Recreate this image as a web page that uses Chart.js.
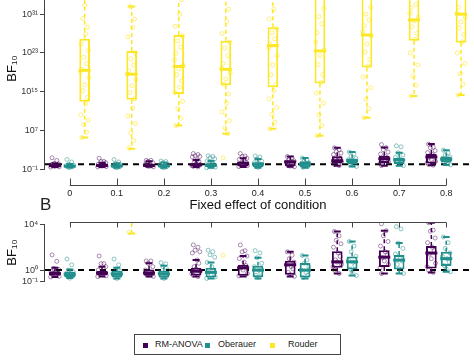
<!DOCTYPE html>
<html lang="en">
<head>
<meta charset="UTF-8">
<title>Bayes factors by fixed effect of condition</title>
<script src="https://cdn.jsdelivr.net/npm/chart.js"></script>
<style>
    body { margin: 0; width: 474px; height: 362px; overflow: hidden; background: #fff; position: relative;
           font-family: 'Liberation Sans', Arial, sans-serif; color: #222; }
    #topChart { position: absolute; left: 0; top: -38px; }
    #bottomChart { position: absolute; left: 0; top: 215px; }
    #panelB { position: absolute; left: 40px; top: 195px; font-size: 17px; }
    #legend { position: absolute; left: 134px; top: 334px; width: 205px; height: 19px; border: 1px solid #444; font-size: 9px; }
    #legend .sq { position: absolute; top: 8px; width: 5px; height: 5px; }
    #legend .lb { position: absolute; top: 4px; }
</style>
</head>
<body>
<canvas id="topChart" width="474" height="253"></canvas>
<canvas id="bottomChart" width="474" height="115"></canvas>
<div id="panelB">B</div>
<div id="legend"></div>

<script>
// fixed effect of condition (x categories)
const conditions = [0, 0.1, 0.2, 0.3, 0.4, 0.5, 0.6, 0.7, 0.8];
const conditionLabels = ['0', '0.1', '0.2', '0.3', '0.4', '0.5', '0.6', '0.7', '0.8'];
const groupNames = ['RM-ANOVA', 'Oberauer', 'Rouder'];
const groupColors = ['#440154', '#21908C', '#FDE725'];
const groupPointColors = ['rgba(68,1,84,0.45)', 'rgba(33,144,140,0.5)', 'rgba(253,231,37,0.6)'];

// box stats as log10(BF10): [lower whisker, Q1, median, Q3, upper whisker]
const rmAnovaBox = [
    [-0.6, -0.5, -0.3, -0.1, 0.2],
    [-0.57, -0.47, -0.26, -0.05, 0.3],
    [-0.55, -0.5, -0.26, 0.05, 0.6],
    [-0.57, -0.47, -0.1, 0.2, 0.88],
    [-0.56, -0.5, 0.2, 0.46, 1.23],
    [-0.55, -0.4, 0.46, 0.82, 1.6],
    [-0.3, 0.2, 0.72, 1.64, 3.38],
    [-0.3, 0.26, 1.13, 1.74, 3.44],
    [-0.2, 0.15, 1.49, 2.1, 4.15]
];
const oberauerBox = [
    [-0.7, -0.65, -0.4, -0.15, 0.05],
    [-0.73, -0.63, -0.35, -0.05, 0.2],
    [-0.73, -0.65, -0.33, -0.05, 0.37],
    [-0.73, -0.65, -0.2, 0.2, 0.67],
    [-0.73, -0.63, 0.0, 0.38, 1.07],
    [-0.73, -0.65, 0.0, 0.63, 1.28],
    [-0.47, 0.05, 0.72, 1.18, 2.5],
    [-0.3, 0.05, 0.87, 1.33, 2.36],
    [-0.15, 0.36, 1.0, 1.6, 2.9]
];
const rouderBox = [
    [5.5, 12.9, 19.4, 25.9, 38],
    [3.2, 13.3, 18.6, 23.4, 32.6],
    [8.0, 14.5, 20.2, 26.7, 40],
    [6.3, 16.3, 19.6, 25.5, 40],
    [7.3, 15.9, 24.5, 28.3, 40],
    [5.9, 16.7, 23.4, 36, 45],
    [9.6, 20.0, 26.7, 38, 48],
    [14.1, 25.5, 29.8, 40, 50],
    [14.3, 25.1, 31.0, 40, 50]
];

// individual simulations, log10(BF10)
const rmAnovaPoints = [
    [1.33, 0.77, 0.15, 0.05, -0.1, -0.2, -0.3, -0.35, -0.45, -0.55, -0.6],
    [1.23, 0.57, 0.57, 0.3, 0.0, -0.1, -0.2, -0.3, -0.4, -0.5, -0.57],
    [0.8, 0.8, 0.6, 0.3, 0.0, -0.15, -0.25, -0.35, -0.45, -0.55],
    [2.2, 2.0, 1.74, 1.6, 1.5, 0.88, 0.6, 0.3, 0.1, -0.1, -0.3, -0.45, -0.57],
    [2.2, 1.7, 1.6, 1.23, 1.0, 0.7, 0.4, 0.2, 0.0, -0.3, -0.5],
    [1.6, 1.3, 1.0, 0.7, 0.5, 0.3, 0.1, -0.2, -0.4, -0.55],
    [3.38, 3.0, 2.6, 2.3, 2.0, 1.5, 1.2, 0.9, 0.7, 0.5, 0.3, 0.0, -0.3],
    [4.05, 3.44, 3.0, 2.5, 2.1, 1.6, 1.3, 1.1, 0.8, 0.5, 0.2, -0.3],
    [4.15, 3.5, 3.4, 2.8, 2.4, 2.0, 1.7, 1.4, 1.0, 0.6, 0.3, 0.0, -0.2]
];
const oberauerPoints = [
    [0.97, 0.46, 0.0, -0.2, -0.3, -0.4, -0.5, -0.6, -0.7],
    [0.97, 0.46, 0.1, -0.1, -0.3, -0.4, -0.5, -0.6, -0.73],
    [0.65, 0.55, 0.3, 0.0, -0.2, -0.35, -0.5, -0.6, -0.73],
    [1.74, 1.6, 1.33, 1.13, 0.67, 0.3, 0.0, -0.2, -0.4, -0.6, -0.73],
    [1.7, 1.5, 1.07, 0.6, 0.3, 0.0, -0.2, -0.45, -0.65],
    [1.28, 0.9, 0.6, 0.3, 0.0, -0.2, -0.45, -0.65],
    [2.5, 2.1, 1.6, 1.2, 0.9, 0.7, 0.4, 0.1, -0.2, -0.47],
    [3.8, 3.6, 2.36, 1.9, 1.4, 1.0, 0.8, 0.5, 0.1, -0.3],
    [2.9, 2.4, 1.9, 1.5, 1.2, 1.0, 0.7, 0.4, 0.1, -0.15]
];
const rouderPoints = [
    [5.5, 6.6, 8.2, 9.1, 10.2, 12.5, 13.8, 15.2, 16.4, 17.9, 19.0, 19.6, 20.8, 22.1, 23.5, 24.9, 26.9, 28.3, 30.1, 32.8, 36],
    [3.3, 4.9, 6.5, 8.4, 10, 11.6, 13.5, 14.8, 16.2, 17.5, 18.6, 19.3, 20.5, 21.8, 23.0, 26.3, 28.3, 30, 32.6],
    [8.0, 9.5, 11.5, 13.0, 14.8, 15.9, 17.2, 18.5, 19.7, 20.4, 21.6, 22.9, 24.2, 25.5, 26.5, 28.5, 31, 34],
    [1.3, 6.3, 7.5, 9.0, 10.8, 12.6, 14.5, 16.5, 17.6, 18.9, 19.8, 20.8, 22.4, 24.0, 25.2, 27, 29.5, 32, 35],
    [7.3, 8.7, 10.3, 11.7, 13.5, 15.2, 16.5, 18.5, 20.5, 22.4, 24.0, 24.8, 25.9, 27.2, 28.0, 30, 32],
    [5.9, 8.0, 10.2, 12.6, 14.7, 16.9, 18.5, 20.6, 22.4, 23.6, 25.2, 27.2, 29.0, 30.5, 32.2],
    [9.6, 11.5, 13.4, 15.8, 18.0, 20.3, 21.6, 23.2, 24.8, 26.5, 27.4, 28.6, 29.8, 31.0, 32.4],
    [14.1, 16.3, 18.2, 20.5, 23.0, 25.8, 27.0, 28.4, 29.6, 30.4, 31.2, 32.3, 33.0],
    [14.3, 16.5, 18.7, 20.8, 23.0, 25.3, 26.8, 28.2, 29.4, 30.4, 31.2, 32.4]
];

// y tick exponents for each panel
const topTicks = [-1, 7, 15, 23, 31];
const bottomTicks = [-1, 0, 4];

const groups = [
    { box: rmAnovaBox, points: rmAnovaPoints },
    { box: oberauerBox, points: oberauerPoints },
    { box: rouderBox, points: rouderPoints }
];

// layout: group offset around each condition, and fixed horizontal jitter
const groupShift = [-0.0316, 0, 0.0316];
const jitter = [-0.006, 0.004, -0.002, 0.008, -0.008, 0.002, 0.006, -0.004, 0, 0.009, -0.009];

Chart.defaults.font.family = "'Liberation Sans', Arial, sans-serif";
Chart.defaults.color = '#222';

const sup = { '-': '⁻', '0': '⁰', '1': '¹', '2': '²', '3': '³', '4': '⁴', '5': '⁵', '6': '⁶', '7': '⁷', '8': '⁸', '9': '⁹' };
const powLabel = v => '10' + String(Math.round(Math.log10(v))).split('').map(c => sup[c]).join('');

function buildDatasets() {
    const ds = [];
    groups.forEach((g, gi) => {
        ds.push({
            type: 'scatter',
            order: 0,
            clip: 0,
            data: g.points.flatMap((list, ci) => list.map((v, j) => ({
                x: conditions[ci] + groupShift[gi] + jitter[j % jitter.length],
                y: 10 ** v
            }))),
            pointRadius: 2,
            pointHoverRadius: 2,
            pointBorderWidth: 1,
            borderColor: groupPointColors[gi],
            backgroundColor: 'rgba(0,0,0,0)'
        });
        ds.push({
            type: 'bar',
            order: 1,
            grouped: false,
            maxBarThickness: 12,
            data: g.box.map((s, ci) => ({ x: conditions[ci] + groupShift[gi], y: [10 ** s[1], 10 ** s[3]] })),
            backgroundColor: '#fff',
            borderColor: groupColors[gi],
            borderWidth: 2,
            borderSkipped: false
        });
    });
    return ds;
}

// whiskers, medians, reference line and the R-style axis brackets
const boxExtras = {
    id: 'boxExtras',
    beforeDatasetsDraw(chart) {
        const { ctx, chartArea: a, scales: { x, y } } = chart;
        ctx.save();
        ctx.beginPath();
        ctx.rect(a.left, a.top, a.right - a.left, a.bottom - a.top);
        ctx.clip();
        const y1 = y.getPixelForValue(1);
        ctx.setLineDash([6, 5]);
        ctx.lineWidth = 2;
        ctx.strokeStyle = '#000';
        ctx.beginPath();
        ctx.moveTo(a.left, y1);
        ctx.lineTo(a.right, y1);
        ctx.stroke();
        groups.forEach((g, gi) => {
            ctx.strokeStyle = groupColors[gi];
            g.box.forEach((s, ci) => {
                const px = x.getPixelForValue(conditions[ci] + groupShift[gi]);
                const [lo, q1, , q3, hi] = s.map(v => y.getPixelForValue(10 ** v));
                ctx.setLineDash([4, 3]);
                ctx.lineWidth = 1.5;
                ctx.beginPath();
                ctx.moveTo(px, q1); ctx.lineTo(px, lo);
                ctx.moveTo(px, q3); ctx.lineTo(px, hi);
                ctx.stroke();
                ctx.setLineDash([]);
                ctx.lineWidth = 2;
                ctx.beginPath();
                ctx.moveTo(px - 3.5, lo); ctx.lineTo(px + 3.5, lo);
                ctx.moveTo(px - 3.5, hi); ctx.lineTo(px + 3.5, hi);
                ctx.stroke();
            });
        });
        ctx.restore();
    },
    afterDatasetsDraw(chart) {
        const { ctx, chartArea: a, scales: { x, y } } = chart;
        ctx.save();
        ctx.beginPath();
        ctx.rect(a.left, a.top, a.right - a.left, a.bottom - a.top);
        ctx.clip();
        ctx.lineWidth = 3;
        groups.forEach((g, gi) => {
            ctx.strokeStyle = groupColors[gi];
            g.box.forEach((s, ci) => {
                const px = x.getPixelForValue(conditions[ci] + groupShift[gi]);
                const m = y.getPixelForValue(10 ** s[2]);
                ctx.beginPath();
                ctx.moveTo(px - 6, m); ctx.lineTo(px + 6, m);
                ctx.stroke();
            });
        });
        ctx.restore();
    },
    afterDraw(chart, args, opts) {
        const { ctx, chartArea: a, scales: { x, y } } = chart;
        ctx.save();
        ctx.strokeStyle = '#444';
        ctx.lineWidth = 1;
        // y axis line between the outer ticks
        const yLow = y.getPixelForValue(10 ** opts.ticks[0]);
        const yHigh = opts.fullTop ? a.top : y.getPixelForValue(10 ** opts.ticks[opts.ticks.length - 1]);
        ctx.beginPath();
        ctx.moveTo(a.left - 0.5, yLow);
        ctx.lineTo(a.left - 0.5, yHigh);
        ctx.stroke();
        // x bracket
        const yb = opts.bracket === 'below' ? a.bottom + 13.5 : a.top + 0.5;
        const dir = opts.bracket === 'below' ? -7 : 5;
        const x0 = x.getPixelForValue(conditions[0]);
        const x1 = x.getPixelForValue(conditions[conditions.length - 1]);
        ctx.beginPath();
        ctx.moveTo(x0, yb);
        ctx.lineTo(x1, yb);
        conditions.forEach(c => {
            const px = Math.round(x.getPixelForValue(c)) + 0.5;
            ctx.moveTo(px, yb);
            ctx.lineTo(px, yb + dir);
        });
        ctx.stroke();
        ctx.restore();
    }
};

function yAxis(ticks, min, max) {
    return {
        type: 'logarithmic',
        min: 10 ** min,
        max: 10 ** max,
        afterBuildTicks: s => { s.ticks = ticks.map(e => ({ value: 10 ** e })); },
        afterFit: s => { s.width = 45; s.paddingTop = 0; s.paddingBottom = 0; },
        ticks: { callback: v => powLabel(v), font: { size: 9 }, padding: 2, color: '#333' },
        grid: { drawOnChartArea: false, drawTicks: true, tickLength: 5, color: '#444' },
        border: { display: false },
        title: { display: true, text: 'BF₁₀', font: { size: 13 }, padding: { top: 5, bottom: 0 }, color: '#111' }
    };
}

function xAxis(show) {
    return {
        type: 'linear',
        display: show,
        offset: false,
        min: -0.0527,
        max: 0.8527,
        afterBuildTicks: s => { s.ticks = conditions.map(c => ({ value: c })); },
        afterFit: s => { s.height = 43; s.paddingLeft = 0; s.paddingRight = 0; },
        ticks: { callback: (v, i) => conditionLabels[i], font: { size: 9 }, padding: 8, maxRotation: 0, autoSkip: false, color: '#222' },
        grid: { display: false, offset: false },
        border: { display: false },
        title: { display: show, text: 'Fixed effect of condition', font: { size: 13 }, padding: { top: 0, bottom: 2 }, color: '#111' }
    };
}

function makeChart(id, panel) {
    const top = panel === 'top';
    return new Chart(document.getElementById(id), {
        type: 'scatter',
        data: { datasets: buildDatasets() },
        options: {
            responsive: false,
            animation: false,
            events: [],
            layout: { padding: top ? 0 : { top: 7, bottom: 4, left: 0, right: 0 } },
            scales: {
                x: xAxis(top),
                y: top ? yAxis(topTicks, -1.611, 41.16) : yAxis(bottomTicks, -1.128, 4.205)
            },
            plugins: {
                legend: { display: false },
                tooltip: { enabled: false },
                boxExtras: top
                    ? { ticks: topTicks, fullTop: true, bracket: 'below' }
                    : { ticks: bottomTicks, fullTop: false, bracket: 'above' }
            }
        },
        plugins: [boxExtras]
    });
}

makeChart('topChart', 'top');
makeChart('bottomChart', 'bottom');

// legend box
const legend = document.getElementById('legend');
const squareLeft = [8, 70, 135];
const labelLeft = [20, 83, 153];
groupNames.forEach((name, i) => {
    const sq = document.createElement('span');
    sq.className = 'sq';
    sq.style.left = squareLeft[i] + 'px';
    sq.style.background = groupColors[i];
    legend.appendChild(sq);
    const lb = document.createElement('span');
    lb.className = 'lb';
    lb.style.left = labelLeft[i] + 'px';
    lb.textContent = name;
    legend.appendChild(lb);
});
</script>
</body>
</html>
